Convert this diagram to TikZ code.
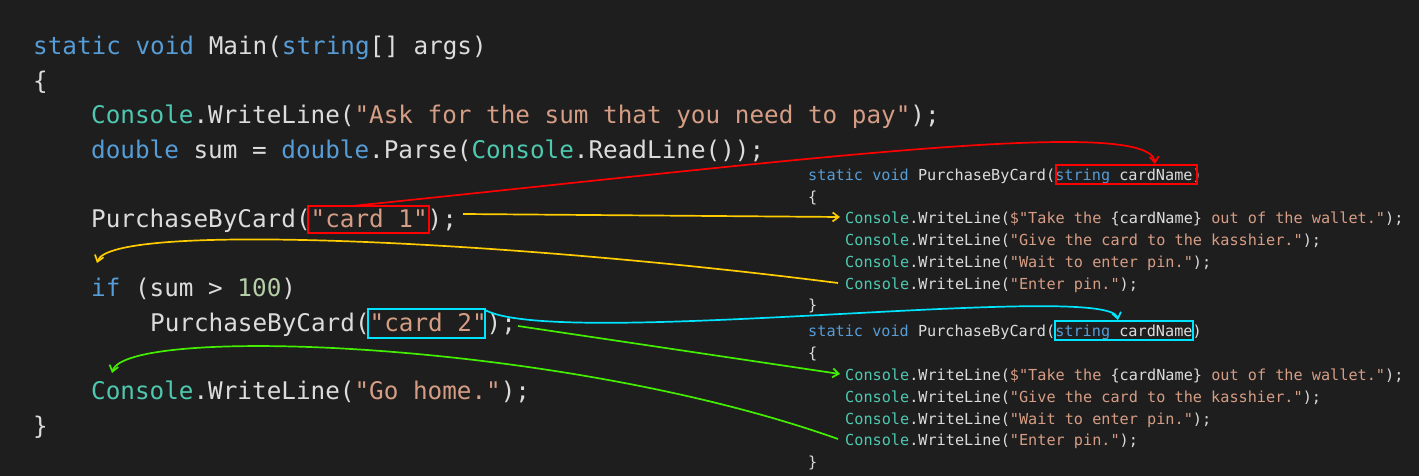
\documentclass[tikz,border=0pt]{standalone}
\usepackage{fontspec}
\usetikzlibrary{arrows.meta}
\newfontfamily\codefont{DejaVu Sans Mono}
\definecolor{bg}{HTML}{1E1E1E}
\definecolor{kw}{HTML}{569CD6}
\definecolor{cls}{HTML}{4EC9B0}
\definecolor{str}{HTML}{D69D85}
\definecolor{num}{HTML}{B5CEA8}
\definecolor{txt}{HTML}{DCDCDC}
\definecolor{cred}{HTML}{FF0000}
\definecolor{cyel}{HTML}{FFCC00}
\definecolor{ccya}{HTML}{00E5FF}
\definecolor{cgrn}{HTML}{44EE00}
\newcommand\K[1]{\textcolor{kw}{#1}}
\newcommand\C[1]{\textcolor{cls}{#1}}
\newcommand\St[1]{\textcolor{str}{#1}}
\newcommand\Nm[1]{\textcolor{num}{#1}}
\tikzset{
  big/.style={anchor=west,inner sep=0pt,yshift=-5pt,text=txt,font=\codefont\fontsize{24.3}{26}\selectfont,text height=0.75em,text depth=0.25em},
  small/.style={anchor=west,inner sep=0pt,yshift=-3.5pt,text=txt,font=\codefont\fontsize{15.2}{17}\selectfont,text height=0.75em,text depth=0.25em},
  hbox/.style={draw=#1,line width=1.7pt},
  flow/.style={draw=#1,line width=1.7pt,-{Straight Barb[length=6pt,width=9pt]}}
}
\begin{document}
\begin{tikzpicture}[x=1pt,y=-1pt]
\fill[bg] (0,0) rectangle (1419,476);
\useasboundingbox (0,0) rectangle (1419,476);
% left code
\node[big] (l1) at (33,47) {\K{static} \K{void} Main(\K{string}[] args)};
\node[big] (l2) at (33,82) {\{};
\node[big] (l3) at (91,116) {\C{Console}.WriteLine(\St{"Ask for the sum that you need to pay"});};
\node[big] (l4) at (91,151) {\K{double} sum = \K{double}.Parse(\C{Console}.ReadLine());};
\node[big] (l5) at (91,220) {PurchaseByCard(\St{"card 1"});};
\node[big] (l6) at (91,289) {\K{if} (sum > \Nm{100})};
\node[big] (l7) at (150,324) {PurchaseByCard(\St{"card 2"});};
\node[big] (l8) at (91,392) {\C{Console}.WriteLine(\St{"Go home."});};
\node[big] (l9) at (33,427) {\}};
% right code block 1
\node[small] (a1) at (808,174) {\K{static} \K{void} PurchaseByCard(\K{string} cardName)};
\node[small] (a2) at (808,196) {\{};
\node[small] (a3) at (845,217) {\C{Console}.WriteLine(\St{\$"Take the }\{cardName\} \St{out of the wallet."});};
\node[small] (a4) at (845,239) {\C{Console}.WriteLine(\St{"Give the card to the kasshier."});};
\node[small] (a5) at (845,261) {\C{Console}.WriteLine(\St{"Wait to enter pin."});};
\node[small] (a6) at (845,283) {\C{Console}.WriteLine(\St{"Enter pin."});};
\node[small] (a7) at (808,304) {\}};
% right code block 2
\node[small] (b1) at (808,330) {\K{static} \K{void} PurchaseByCard(\K{string} cardName)};
\node[small] (b2) at (808,352) {\{};
\node[small] (b3) at (845,374) {\C{Console}.WriteLine(\St{\$"Take the }\{cardName\} \St{out of the wallet."});};
\node[small] (b4) at (845,396) {\C{Console}.WriteLine(\St{"Give the card to the kasshier."});};
\node[small] (b5) at (845,418) {\C{Console}.WriteLine(\St{"Wait to enter pin."});};
\node[small] (b6) at (845,439) {\C{Console}.WriteLine(\St{"Enter pin."});};
\node[small] (b7) at (808,461) {\}};
% highlight boxes
\node[hbox=cred,minimum width=121pt,minimum height=27pt,inner sep=0pt] (r1) at (368.5,219.5) {};
\node[hbox=cred,minimum width=141pt,minimum height=19pt,inner sep=0pt] (r2) at (1126.5,174.5) {};
\node[hbox=ccya,minimum width=117pt,minimum height=29pt,inner sep=0pt] (c1) at (426.5,323.5) {};
\node[hbox=ccya,minimum width=138pt,minimum height=19pt,inner sep=0pt] (c2) at (1124,330.5) {};
% coordinates
\coordinate (rs) at (352,206);
\coordinate (re) at (1155,164);
\coordinate (y1s) at (463,214);
\coordinate (y1e) at (840,217);
\coordinate (y2s) at (838,283);
\coordinate (y2e) at (97,263);
\coordinate (cs) at (485,310);
\coordinate (ce) at (1118,320);
\coordinate (g1s) at (518,326);
\coordinate (g1e) at (840,374);
\coordinate (g2s) at (838,439);
\coordinate (g2e) at (112,373);
% connectors
\draw[flow=cred] (rs) .. controls (800,160) and (1150,115) .. (re);
\draw[flow=cyel] (y1s) -- (y1e);
\draw[flow=cyel] (y2s) .. controls (500,240) and (110,222) .. (y2e);
\draw[flow=ccya] (cs) .. controls (560,350) and (1110,280) .. (ce);
\draw[flow=cgrn] (g1s) -- (g1e);
\draw[flow=cgrn] (g2s) .. controls (560,340) and (125,325) .. (g2e);
\end{tikzpicture}
\end{document}
